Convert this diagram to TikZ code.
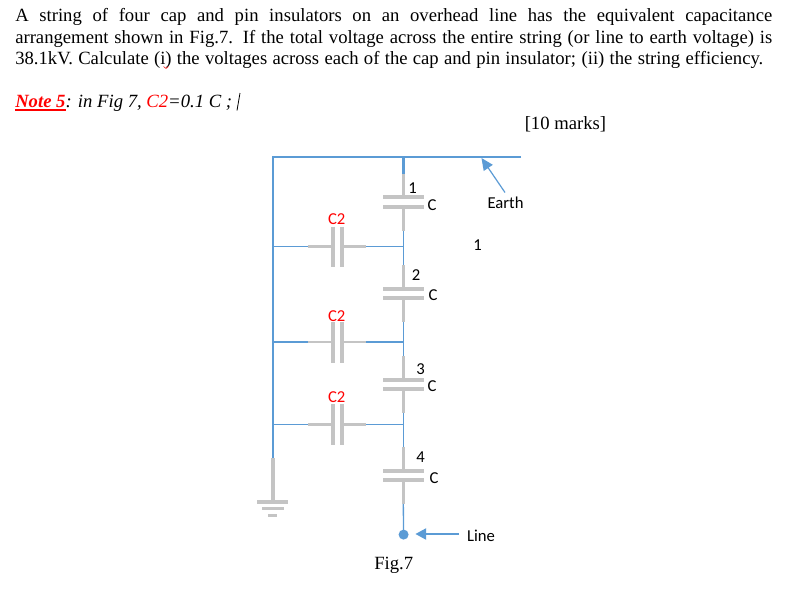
\documentclass[tikz,border=0pt]{standalone}
\usepackage{fontspec}
\setmainfont{Liberation Serif}
\newfontfamily\lab{Carlito}
\usetikzlibrary{arrows.meta}
\definecolor{wireblue}{HTML}{5B9BD5}
\definecolor{capgray}{HTML}{C4C4C4}
\definecolor{notered}{HTML}{FF0000}
\tikzset{
  x=0.75pt,y=-0.75pt,
  blue wire/.style={draw=wireblue,line width=1pt},
  gray wire/.style={draw=capgray,line width=2.4pt},
  thin gray wire/.style={draw=capgray,line width=2pt},
  plate/.style={draw=capgray,line width=3pt},
  para/.style={anchor=base west,inner sep=0pt,font=\fontsize{14}{16}\selectfont},
  cap label/.style={inner sep=0pt,anchor=base,font=\lab\fontsize{12.5}{14}\selectfont},
  c2 label/.style={cap label,text=notered},
}
\newcommand{\seriescap}[4]{% name, top, first plate y, bottom
  \coordinate (#1t) at (403.3,#2);
  \coordinate (#1a) at (403.3,#3);
  \coordinate (#1b) at (403.3,#3+9.2);
  \coordinate (#1e) at (403.3,#4);
  \draw[gray wire] (#1t) -- (#1a);
  \draw[gray wire] (#1b) -- (#1e);
  \draw[plate] (383,#3) -- (424,#3);
  \draw[plate] (383,#3+9.2) -- (424,#3+9.2);
}
\newcommand{\shuntcap}[4]{% name, y, plate top, plate bottom
  \coordinate (#1l) at (273,#2);
  \coordinate (#1r) at (403.3,#2);
  \coordinate (#1g) at (308,#2);
  \coordinate (#1h) at (366,#2);
  \draw[blue wire] (#1l) -- (#1g);
  \draw[blue wire] (#1h) -- (#1r);
  \draw[thin gray wire] (#1g) -- (#1h);
  \fill[white] (334.7,#3) rectangle (339.7,#4);
  \draw[plate] (332.7,#3) -- (332.7,#4);
  \draw[plate] (341.7,#3) -- (341.7,#4);
}
\begin{document}
\begin{tikzpicture}
\useasboundingbox (0,0) rectangle (797,596);
\fill[white] (0,0) rectangle (797,596);
% question text
\node[para] (line one) at (15,21.8) {\hbox to 567.75pt{A string of four cap and pin insulators on an overhead line has the equivalent capacitance}};
\node[para] (line two) at (15,43.2) {\hbox to 567.75pt{arrangement shown in Fig.7. If the total voltage across the entire string (or line to earth voltage) is}};
\node[para] (line three) at (15,64.6) {\hbox to 561pt{38.1kV. Calculate (i) the voltages across each of the cap and pin insulator; (ii) the string efficiency.}};
\node[para] (note) at (15,107.8) {\textcolor{notered}{\textbf{\textit{Note 5}}}\textit{: in Fig 7, }\textcolor{notered}{\textit{C2}}\textit{=0.1 C ;}};
\coordinate (note a) at (15,110);
\coordinate (note b) at (66,110);
\draw[notered,line width=1.6pt] (note a) -- (note b);
\coordinate (caret a) at (237,110.5);
\coordinate (caret b) at (240,93);
\draw[black,line width=0.6pt] (caret a) -- (caret b);
\draw[notered,line width=0.4pt] (163.5,66.5) -- (166,68.5) -- (168.5,66.5);
\node[para] (marks) at (524.5,129.6) {[10 marks]};
\node[para] (fig) at (374,569.3) {Fig.7};
% rails
\coordinate (topL) at (273,157);
\coordinate (topR) at (521,157);
\coordinate (gndT) at (273,458);
\coordinate (gndB) at (273,501.5);
\draw[blue wire] (topR) -- (topL) -- (gndT);
\draw[gray wire] (gndT) -- (gndB);
\draw[plate] (257,501.5) -- (288,501.5);
\draw[draw=capgray,line width=2.4pt] (262,508.5) -- (284,508.5);
\draw[draw=capgray,line width=2.4pt] (268,515.5) -- (277,515.5);
% series capacitors
\coordinate (top) at (403.3,157);
\coordinate (stub) at (403.3,174);
\draw[draw=wireblue,line width=2.2pt] (top) -- (stub);
\seriescap{A}{174}{197.3}{231}
\seriescap{B}{265}{289}{321.7}
\seriescap{C}{356}{380}{412.7}
\seriescap{D}{446.7}{470.7}{504}
\coordinate (dotc) at (403.6,534.6);
\draw[blue wire] (Ae) -- (Bt);
\draw[blue wire] (Be) -- (Ct);
\draw[blue wire] (Ce) -- (Dt);
\draw[blue wire] (De) -- (dotc);
\node[circle,fill=wireblue,minimum size=7.5pt,inner sep=0pt] (dot) at (dotc) {};
% shunt capacitors
\shuntcap{P}{246.7}{226.7}{266.7}
\shuntcap{Q}{342}{321.7}{362.7}
\shuntcap{R}{424.7}{404}{444.7}
% arrows
\coordinate (earthS) at (505,192.5);
\coordinate (earthT) at (481.5,158);
\draw[wireblue,line width=0.9pt,-{Triangle[length=9pt,width=8pt]}] (earthS) -- (earthT);
\coordinate (lineS) at (459,534);
\coordinate (lineT) at (415.5,534);
\draw[wireblue,line width=0.9pt,-{Triangle[length=8pt,width=8.5pt]}] (lineS) -- (lineT);
% labels
\node[cap label] (n1) at (412.5,193) {1};
\node[cap label] (n2) at (416,280) {2};
\node[cap label] (n3) at (420.5,374) {3};
\node[cap label] (n4) at (420.5,462) {4};
\node[cap label] (cA) at (432,210.5) {C};
\node[cap label] (cB) at (433,300.5) {C};
\node[cap label] (cC) at (432,391.5) {C};
\node[cap label] (cD) at (434,483.5) {C};
\node[c2 label] (c2a) at (336.7,224) {C2};
\node[c2 label] (c2b) at (336.7,321) {C2};
\node[c2 label] (c2c) at (336.7,402.5) {C2};
\node[cap label] (earth) at (505.5,208) {Earth};
\node[cap label] (one) at (477.5,250) {1};
\node[cap label] (line) at (481,541.5) {Line};
\end{tikzpicture}
\end{document}
